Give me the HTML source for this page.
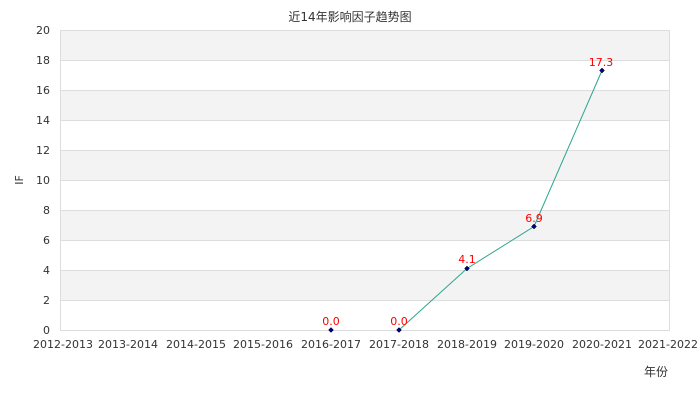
<!DOCTYPE html><html><head><meta charset="utf-8"><style>body{margin:0;background:#fff}</style></head><body>
<svg width="700" height="400" xmlns="http://www.w3.org/2000/svg" font-family="DejaVu Sans, Noto Sans CJK SC, sans-serif">
<rect width="700" height="400" fill="#fff"/>
<text x="350" y="21" font-size="12" text-anchor="middle" fill="#333">近14年影响因子趋势图</text>
<g fill="#f3f3f3"><rect x="60" y="30" width="610" height="30"/><rect x="60" y="90" width="610" height="30"/><rect x="60" y="150" width="610" height="30"/><rect x="60" y="210" width="610" height="30"/><rect x="60" y="270" width="610" height="30"/></g>
<g stroke="#ddd" stroke-width="1">
<line x1="60" y1="30.5" x2="670" y2="30.5"/><line x1="60" y1="60.5" x2="670" y2="60.5"/><line x1="60" y1="90.5" x2="670" y2="90.5"/><line x1="60" y1="120.5" x2="670" y2="120.5"/><line x1="60" y1="150.5" x2="670" y2="150.5"/><line x1="60" y1="180.5" x2="670" y2="180.5"/><line x1="60" y1="210.5" x2="670" y2="210.5"/><line x1="60" y1="240.5" x2="670" y2="240.5"/><line x1="60" y1="270.5" x2="670" y2="270.5"/><line x1="60" y1="300.5" x2="670" y2="300.5"/><line x1="60" y1="330.5" x2="670" y2="330.5"/>
<line x1="60.5" y1="30" x2="60.5" y2="330"/><line x1="669.5" y1="30" x2="669.5" y2="330"/>
</g>
<g font-size="11" fill="#333" text-anchor="end">
<text x="50" y="34">20</text><text x="50" y="64">18</text><text x="50" y="94">16</text><text x="50" y="124">14</text><text x="50" y="154">12</text><text x="50" y="184">10</text><text x="50" y="214">8</text><text x="50" y="244">6</text><text x="50" y="274">4</text><text x="50" y="304">2</text><text x="50" y="334">0</text>
</g>
<text x="23" y="180" font-size="11" fill="#333" text-anchor="middle" transform="rotate(-90 23 180)">IF</text>
<g font-size="11" fill="#333" text-anchor="middle">
<text x="63" y="348">2012-2013</text><text x="128" y="348">2013-2014</text><text x="196" y="348">2014-2015</text><text x="263" y="348">2015-2016</text><text x="331" y="348">2016-2017</text><text x="399" y="348">2017-2018</text><text x="467" y="348">2018-2019</text><text x="534" y="348">2019-2020</text><text x="602" y="348">2020-2021</text><text x="668" y="348">2021-2022</text>
</g>
<text x="656" y="376" font-size="12" fill="#333" text-anchor="middle">年份</text>
<polyline points="399,330 467,268.5 534,226.5 602,70.5" fill="none" stroke="#2ca58d" stroke-width="1"/>
<g fill="#00008b" stroke="#000" stroke-width="0.5">
<path d="M331 327.5l2.5 2.5-2.5 2.5-2.5-2.5z"/><path d="M399 327.5l2.5 2.5-2.5 2.5-2.5-2.5z"/><path d="M467 266l2.5 2.5-2.5 2.5-2.5-2.5z"/><path d="M534 224l2.5 2.5-2.5 2.5-2.5-2.5z"/><path d="M602 68l2.5 2.5-2.5 2.5-2.5-2.5z"/>
</g>
<g font-size="11" fill="#f00" text-anchor="middle">
<text x="331" y="325">0.0</text><text x="399" y="325">0.0</text><text x="467" y="263">4.1</text><text x="534" y="222">6.9</text><text x="601" y="66">17.3</text>
</g>
</svg>
</body></html>
